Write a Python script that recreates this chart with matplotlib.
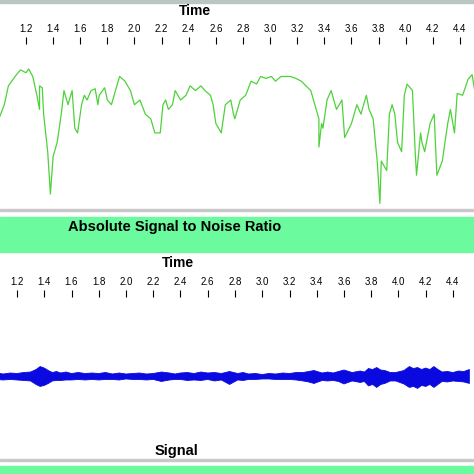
import numpy as np
import matplotlib
matplotlib.use("Agg")
import matplotlib.pyplot as plt
from matplotlib.patches import Rectangle

plt.rcParams['font.family'] = ['Liberation Sans', 'DejaVu Sans']

# absolute signal-to-noise ratio trace (time in s, value in arbitrary units)
snr_time = [1.00, 1.04, 1.07, 1.13, 1.16, 1.20, 1.22, 1.25, 1.28, 1.30, 1.30, 1.32,
            1.33, 1.36, 1.38, 1.40, 1.43, 1.46, 1.48, 1.51, 1.54, 1.56, 1.58, 1.61,
            1.63, 1.65, 1.68, 1.71, 1.73, 1.74, 1.78, 1.80, 1.83, 1.86, 1.89, 1.93,
            1.97, 2.00, 2.04, 2.08, 2.12, 2.15, 2.19, 2.21, 2.23, 2.25, 2.28, 2.30,
            2.34, 2.38, 2.41, 2.45, 2.49, 2.52, 2.56, 2.58, 2.60, 2.64, 2.67, 2.71,
            2.73, 2.74, 2.78, 2.82, 2.86, 2.90, 2.93, 2.97, 3.01, 3.04, 3.08, 3.12,
            3.15, 3.19, 3.23, 3.30, 3.36, 3.36, 3.38, 3.39, 3.42, 3.45, 3.49, 3.53,
            3.55, 3.60, 3.64, 3.67, 3.71, 3.73, 3.76, 3.79, 3.81, 3.82, 3.86, 3.88,
            3.90, 3.92, 3.94, 3.97, 3.99, 4.01, 4.05, 4.07, 4.08, 4.11, 4.12, 4.14,
            4.18, 4.21, 4.23, 4.27, 4.31, 4.33, 4.36, 4.38, 4.42, 4.46, 4.49, 4.52]
snr_value = [95, 110, 130, 142, 147, 144, 148, 140, 120, 105, 130, 128,
             100, 60, 15, 55, 70, 100, 125, 110, 125, 85, 80, 110,
             120, 115, 125, 127, 110, 120, 128, 115, 110, 125, 140, 135,
             125, 110, 115, 100, 95, 80, 80, 110, 115, 105, 110, 125,
             115, 120, 130, 125, 130, 125, 120, 110, 90, 80, 110, 115,
             100, 95, 115, 120, 135, 132, 140, 138, 140, 135, 140, 140,
             140, 138, 135, 125, 95, 65, 90, 85, 115, 125, 105, 115,
             75, 90, 110, 100, 120, 105, 95, 50, 5, 50, 40, 100,
             110, 100, 70, 60, 120, 132, 125, 60, 35, 80, 70, 60,
             90, 100, 35, 50, 90, 105, 80, 122, 120, 137, 142, 115]

# envelope of the raw signal (half-amplitude, arbitrary units)
sig_time = [1.00, 1.05, 1.10, 1.15, 1.20, 1.25, 1.30, 1.34, 1.37, 1.40, 1.43, 1.46,
            1.49, 1.52, 1.56, 1.60, 1.65, 1.70, 1.75, 1.80, 1.85, 1.90, 1.95, 2.00,
            2.05, 2.10, 2.15, 2.20, 2.26, 2.32, 2.36, 2.40, 2.45, 2.50, 2.55, 2.60,
            2.65, 2.70, 2.76, 2.82, 2.86, 2.90, 2.95, 3.00, 3.05, 3.10, 3.15, 3.20,
            3.25, 3.30, 3.34, 3.38, 3.44, 3.48, 3.52, 3.56, 3.60, 3.66, 3.72, 3.75,
            3.78, 3.81, 3.84, 3.87, 3.90, 3.94, 3.98, 4.04, 4.08, 4.11, 4.14, 4.17,
            4.20, 4.23, 4.26, 4.29, 4.32, 4.36, 4.40, 4.44, 4.48, 4.52]
sig_upper = [2.5, 3.5, 2.5, 3.5, 3.0, 4.0, 4.5, 7.0, 10.0, 8.5, 6.0, 4.0,
             5.0, 3.5, 4.5, 3.0, 4.0, 3.0, 3.5, 3.0, 4.0, 2.5, 3.5, 2.5,
             3.0, 3.5, 2.5, 3.0, 4.5, 3.5, 2.5, 3.5, 4.0, 3.0, 4.5, 3.5,
             4.0, 3.0, 5.0, 3.0, 4.0, 2.5, 3.0, 2.0, 3.0, 2.5, 3.5, 3.0,
             4.0, 4.0, 5.0, 6.0, 3.5, 4.5, 3.5, 5.0, 6.5, 4.0, 5.5, 4.5,
             8.0, 7.0, 9.0, 6.5, 6.0, 4.0, 4.0, 6.0, 10.0, 8.0, 9.0, 7.0,
             8.5, 7.0, 10.0, 7.0, 4.5, 5.0, 4.0, 5.5, 5.0, 7.0]
sig_lower = [2.5, 3.0, 3.5, 3.0, 3.5, 4.0, 4.5, 8.0, 10.0, 9.0, 7.0, 4.5,
             4.0, 4.0, 3.5, 3.5, 3.0, 3.5, 3.0, 3.5, 3.0, 3.0, 3.5, 2.5,
             3.0, 3.0, 3.5, 3.0, 5.0, 3.5, 3.0, 3.0, 4.0, 3.5, 4.0, 3.0,
             4.5, 3.5, 8.0, 3.5, 4.0, 3.0, 3.0, 2.5, 2.5, 3.0, 3.0, 3.0,
             3.5, 4.5, 5.5, 7.0, 4.0, 4.5, 4.0, 5.0, 7.5, 4.5, 6.0, 5.0,
             9.5, 8.0, 11.0, 8.0, 7.0, 4.5, 4.5, 7.5, 11.0, 10.0, 12.0, 9.0,
             10.0, 8.0, 11.0, 8.0, 5.0, 5.5, 4.5, 5.0, 5.5, 7.0]

time_ticks = [1.2, 1.4, 1.6, 1.8, 2.0, 2.2, 2.4, 2.6, 2.8, 3.0, 3.2, 3.4, 3.6, 3.8, 4.0, 4.2, 4.4]

GREEN = '#4ED23A'
BAND = '#6CFA9E'
BLUE = '#0A0AE0'

fig = plt.figure(figsize=(4.74, 4.74), dpi=100)
fig.patch.set_facecolor('white')
H = 474.0

def fy(px):
    return 1 - px / H

# gray frame lines and green title bands
for y0, y1, c in [(0, 3, '#B8C8C0'), (209, 211, '#C8C8C8'), (217, 239, BAND),
                  (240, 252, BAND), (459, 461, '#C8C8C8'), (466, 474, BAND)]:
    fig.patches.append(Rectangle((0, fy(y1)), 1, (y1 - y0) / H, transform=fig.transFigure,
                                 color=c, zorder=0))

def time_axis(ax, x12, px_per_s):
    # x12: pixel position of the 1.2 s tick
    x_left = 1.2 - x12 / px_per_s
    ax.xaxis.set_ticks_position('top')
    ax.set_xticks(time_ticks)
    ax.set_xticklabels([f'{t:.1f}' for t in time_ticks], fontsize=7)
    ax.set_xlim(x_left, x_left + 474 / px_per_s)
    ax.tick_params(axis='x', direction='in', length=5, width=0.8, pad=2, colors='black')
    ax.set_yticks([])
    for s in ax.spines.values():
        s.set_visible(False)
    ax.patch.set_alpha(0)

# top panel: SNR
ax1 = fig.add_axes([0, fy(210), 1, (210 - 37) / H])
ax1.plot(snr_time, snr_value, color=GREEN, lw=0.9)
ax1.set_ylim(-2, 182)
time_axis(ax1, 26, 135.6)
fig.text(195 / 474, fy(11), 'Time', ha='center', va='center', fontsize=10, fontweight='bold')
fig.text(175 / 474, fy(227), 'Absolute Signal to Noise Ratio', ha='center', va='center',
         fontsize=10.5, fontweight='bold')

# bottom panel: signal
ax2 = fig.add_axes([0, fy(459), 1, (459 - 290) / H])
st = np.array(sig_time)
ax2.fill_between(st, -np.array(sig_lower), sig_upper, color=BLUE, lw=0.6, edgecolor=BLUE)
ax2.set_ylim(-83, 87)
time_axis(ax2, 17, 136.25)
fig.text(178 / 474, fy(263), 'Time', ha='center', va='center', fontsize=10, fontweight='bold')
fig.text(176 / 474, fy(451), 'Signal', ha='center', va='center', fontsize=10.5, fontweight='bold')

fig.savefig('out.png', dpi=100)
